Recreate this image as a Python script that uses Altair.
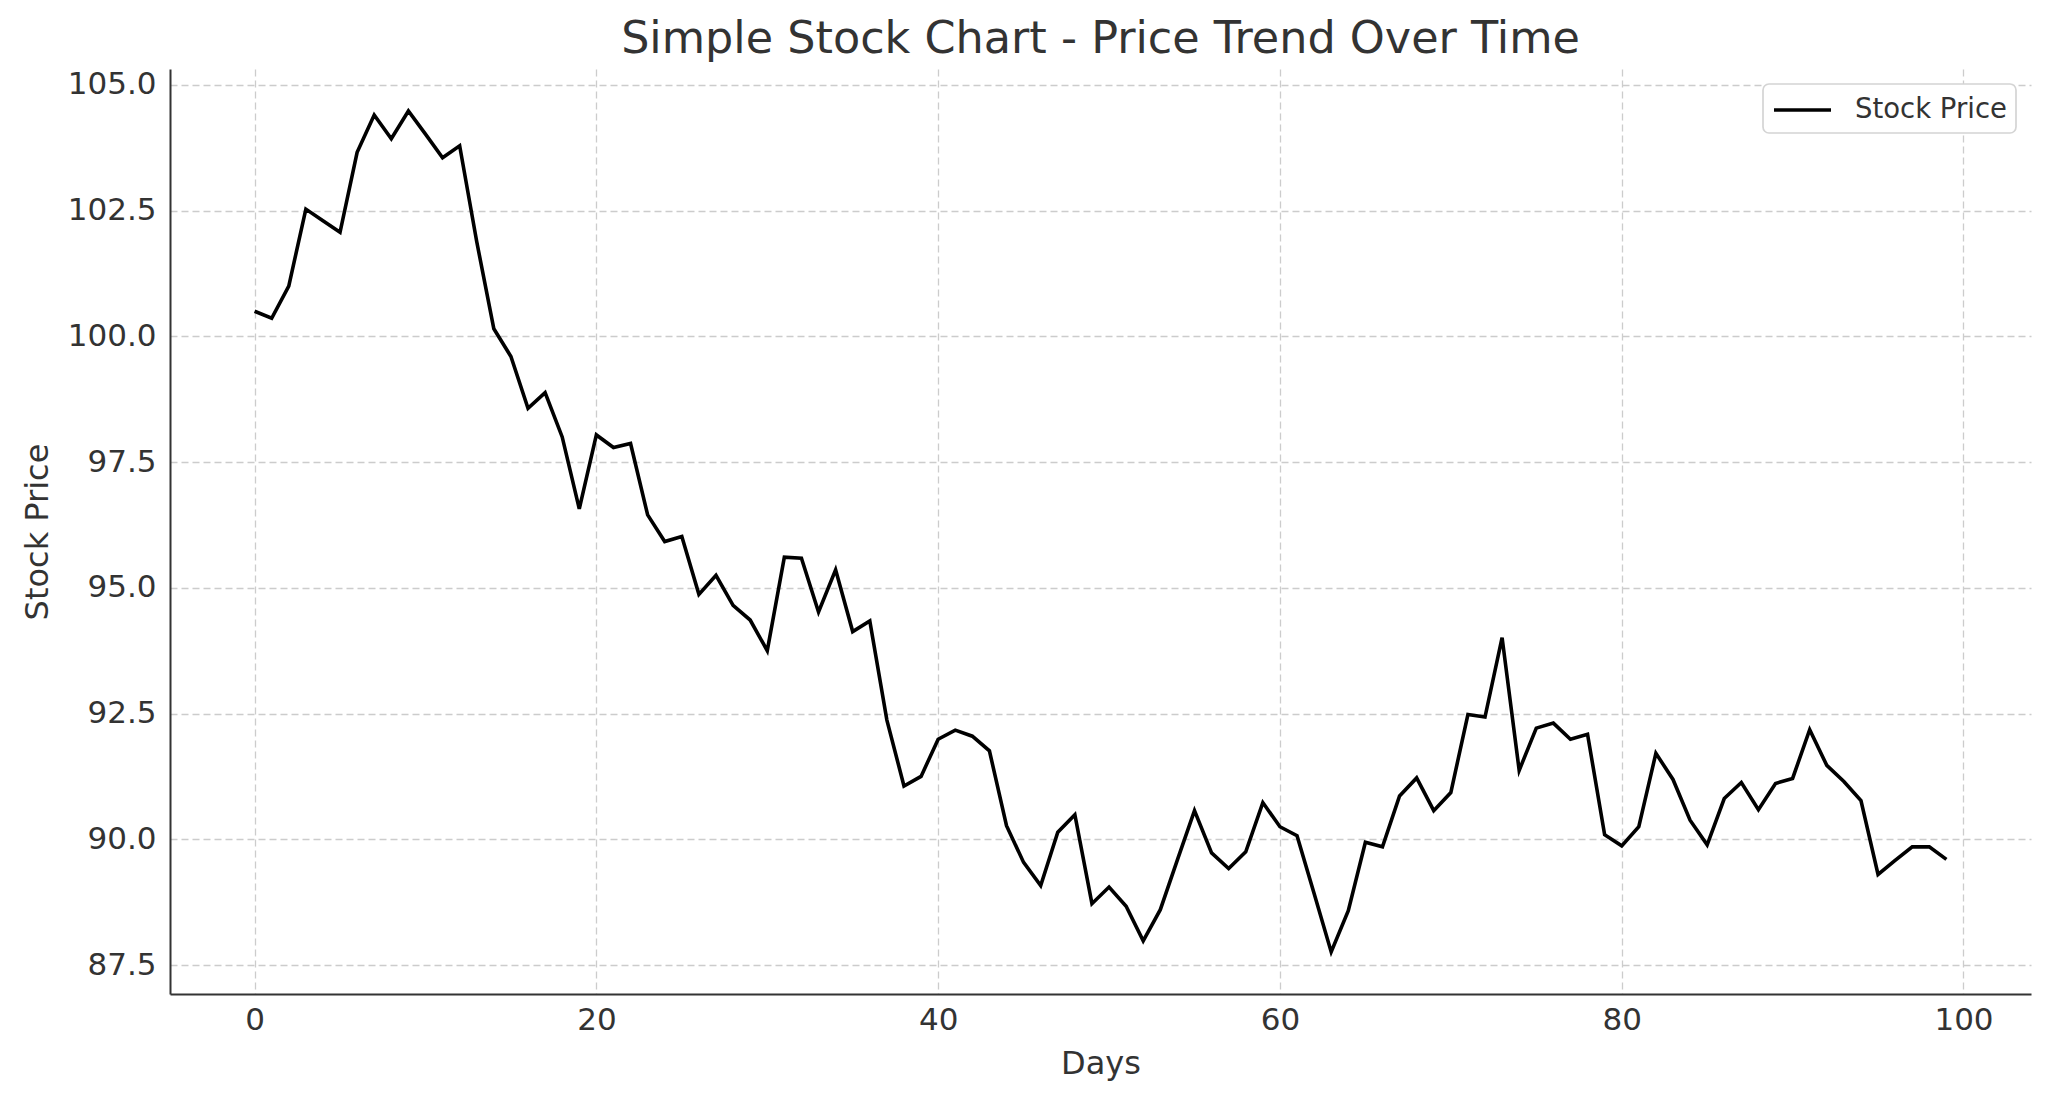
import altair as alt
import pandas as pd

days = list(range(100))
prices = [
    100.50, 100.36, 101.00, 102.53, 102.30, 102.07, 103.66, 104.40, 103.93, 104.48,
    104.02, 103.55, 103.79, 101.88, 100.15, 99.60, 98.57, 98.88, 98.00, 96.57,
    98.04, 97.79, 97.87, 96.45, 95.92, 96.02, 94.87, 95.25, 94.65, 94.36,
    93.75, 95.61, 95.59, 94.52, 95.36, 94.13, 94.34, 92.37, 91.06, 91.25,
    91.99, 92.17, 92.05, 91.76, 90.27, 89.54, 89.08, 90.14, 90.49, 88.72,
    89.05, 88.67, 87.98, 88.60, 89.59, 90.57, 89.73, 89.42, 89.75, 90.73,
    90.25, 90.07, 88.92, 87.76, 88.58, 89.94, 89.85, 90.86, 91.22, 90.57,
    90.93, 92.48, 92.43, 94.01, 91.37, 92.21, 92.31, 91.99, 92.09, 90.09,
    89.87, 90.25, 91.71, 91.19, 90.38, 89.89, 90.81, 91.13, 90.59, 91.11,
    91.21, 92.18, 91.47, 91.15, 90.77, 89.30, 89.58, 89.85, 89.85, 89.60,
]
series_name = ["Stock Price"] * len(days)
x_ticks = [0, 20, 40, 60, 80, 100]
y_ticks = [87.5, 90.0, 92.5, 95.0, 97.5, 100.0, 102.5, 105.0]

df = pd.DataFrame({"Days": days, "Price": prices, "Series": series_name})

xmin, xmax = min(days), max(days)
xm = 0.05 * (xmax - xmin)
ymin, ymax = min(prices), max(prices)
ym = 0.05 * (ymax - ymin)

FONT = "DejaVu Sans"
TXT = "#333333"
W, H = 1861, 925

chart = (
    alt.Chart(df)
    .mark_line(strokeWidth=3.6, color="black")
    .encode(
        x=alt.X(
            "Days:Q",
            scale=alt.Scale(domain=[xmin - xm, xmax + xm], nice=False, zero=False),
            axis=alt.Axis(
                title="Days",
                values=x_ticks,
                format="d",
                ticks=False,
                tickSize=0,
                labelPadding=11,
                labelFontSize=31,
                labelColor=TXT,
                labelFont=FONT,
                titleFontSize=32,
                titleFont=FONT,
                titleColor=TXT,
                titleFontWeight="normal",
                titleX=W / 2,
                titleY=69,
                titleBaseline="middle",
                titleAlign="center",
                grid=True,
                gridColor="#cccccc",
                gridDash=[7, 4],
                gridWidth=1.3,
                domainColor="#333333",
                domainWidth=2,
            ),
        ),
        y=alt.Y(
            "Price:Q",
            scale=alt.Scale(domain=[ymin - ym, ymax + ym], nice=False, zero=False),
            axis=alt.Axis(
                title="Stock Price",
                values=y_ticks,
                format=".1f",
                ticks=False,
                tickSize=0,
                labelPadding=14,
                labelFontSize=31,
                labelColor=TXT,
                labelFont=FONT,
                titleFontSize=32,
                titleFont=FONT,
                titleColor=TXT,
                titleFontWeight="normal",
                titleX=-133,
                titleY=H / 2,
                titleAngle=-90,
                titleBaseline="middle",
                titleAlign="center",
                grid=True,
                gridColor="#cccccc",
                gridDash=[7, 4],
                gridWidth=1.3,
                domainColor="#333333",
                domainWidth=2,
            ),
        ),
        color=alt.Color(
            "Series:N",
            scale=alt.Scale(domain=["Stock Price"], range=["black"]),
            legend=alt.Legend(
                title=None,
                orient="none",
                legendX=1593,
                legendY=15,
                symbolType="M-1,0H2.8",
                symbolSize=900,
                symbolStrokeWidth=3.6,
                symbolStrokeColor="black",
                symbolFillColor="transparent",
                labelFontSize=27.5,
                labelFont=FONT,
                labelColor=TXT,
                labelOffset=49,
                padding=9,
                strokeColor="#d4d4d4",
                cornerRadius=6,
                fillColor="white",
            ),
        ),
    )
    .properties(
        width=W,
        height=H,
        background="white",
        title=alt.TitleParams(
            "Simple Stock Chart - Price Trend Over Time",
            fontSize=44.5,
            font=FONT,
            color=TXT,
            fontWeight="normal",
            anchor="middle",
            baseline="alphabetic",
            offset=14,
            dy=43,
        ),
        autosize=alt.AutoSizeParams(type="none"),
        padding={"left": 162, "top": 61, "right": 10, "bottom": 99},
    )
    .configure_view(stroke="transparent", strokeWidth=0)
    .configure_legend(strokeWidth=1.7)
)

chart.save("out.html", embed_options={"renderer": "svg", "actions": False})
